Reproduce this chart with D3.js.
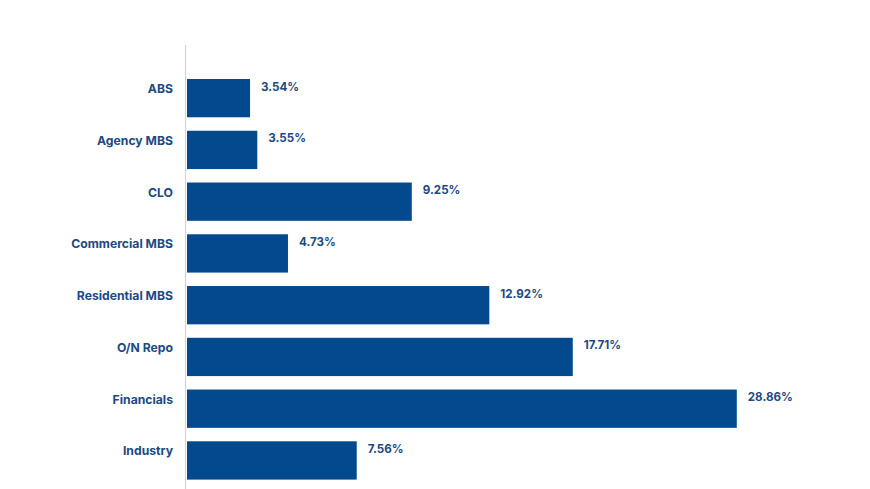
<!DOCTYPE html>
<html>
<head>
<meta charset="utf-8">
<script src="https://cdn.jsdelivr.net/npm/d3@7"></script>
<style>
  body{margin:0;background:#fff}
  text{font-family:Inter,"Open Sans",sans-serif;font-weight:700;fill:#1c4a82}
</style>
</head>
<body>
<div id="chart"></div>
<script>
const categories=["ABS","Agency MBS","CLO","Commercial MBS","Residential MBS","O/N Repo","Financials","Industry"];
// bar lengths as drawn in the picture (they do not follow the printed labels exactly)
const barValues=[3.31,3.69,11.80,5.30,15.87,20.25,28.86,8.91];
const valueLabels=["3.54%","3.55%","9.25%","4.73%","12.92%","17.71%","28.86%","7.56%"];

const opt={width:870,height:489,left:187,pxPerUnit:19.05,top:79,bottom:479.6,axisTop:45}

const xScale=d3.scaleLinear()
  .domain([0,30])
  .range([opt.left,opt.left+30*opt.pxPerUnit]);

const yScale=d3.scaleBand()
  .domain(categories)
  .range([opt.top,opt.bottom])
  .paddingInner(0.26)
  .paddingOuter(0);

const svg=d3.select("#chart")
  .append("svg")
  .attr("width",opt.width)
  .attr("height",opt.height);

const rows=categories.map((c,i)=>({cat:c,v:barValues[i],lab:valueLabels[i]}));

svg.selectAll("rect.bar")
  .data(rows)
  .enter()
  .append("rect")
  .attr("class","bar")
  .attr("x",xScale(0))
  .attr("y",(d)=>yScale(d.cat))
  .attr("width",(d)=>xScale(d.v)-xScale(0))
  .attr("height",yScale.bandwidth())
  .attr("fill","#024a8d");

// vertical baseline
svg.append("line")
  .attr("x1",xScale(0)-1.5).attr("x2",xScale(0)-1.5)
  .attr("y1",opt.axisTop).attr("y2",opt.height)
  .attr("stroke","#d4d4d4")
  .attr("stroke-width",1.2);

// category labels
const yAxis=svg.append("g")
  .attr("transform","translate("+(xScale(0)-1.5)+",0)")
  .call(d3.axisLeft(yScale).tickSize(0).tickPadding(12.5));
yAxis.select(".domain").remove();
yAxis.selectAll("text")
  .attr("dy",null)
  .attr("y",-yScale.bandwidth()/2+14)
  .style("font-size","12.2px")
  .style("font-family","Inter, 'Open Sans', sans-serif")
  .style("font-weight","700")
  .attr("fill","#1c4a82");

// value labels
svg.selectAll("text.val")
  .data(rows)
  .enter()
  .append("text")
  .attr("class","val")
  .attr("x",(d)=>xScale(d.v)+11)
  .attr("y",(d)=>yScale(d.cat)+11.5)
  .style("font-size","11.6px")
  .text((d)=>d.lab);
</script>
</body>
</html>
